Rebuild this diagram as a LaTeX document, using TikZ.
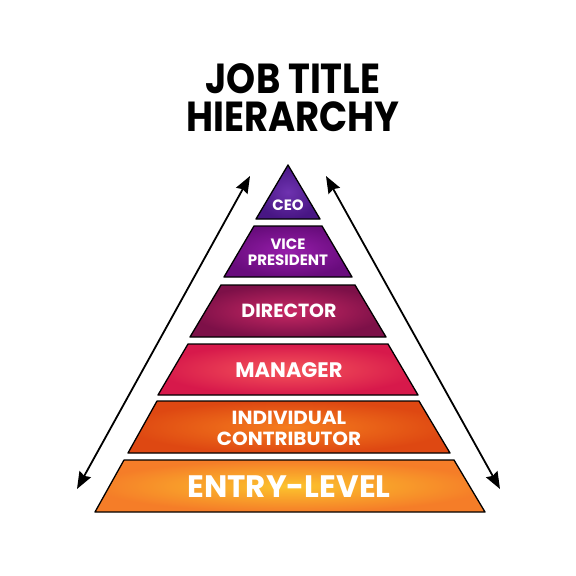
\documentclass[tikz,border=0pt]{standalone}
\usepackage{fontspec}
\setmainfont{Poppins}
\usetikzlibrary{arrows.meta}
\tikzset{
  tier/.style={draw=black,line width=1.3pt,line join=round},
  lbl/.style={text=white,align=center,inner sep=0pt},
  dbl/.style={draw=black,line width=1.8pt,{Stealth[length=17pt,width=13pt,inset=2pt]}-{Stealth[length=17pt,width=13pt,inset=2pt]}},
  ttl/.style={font=\fontsize{42}{42}\selectfont\bfseries,inner sep=0pt,text height=30pt,text depth=0pt,anchor=base}
}
\begin{document}
\begin{tikzpicture}[x=1pt,y=-1pt]
\useasboundingbox[fill=white] (0,0) rectangle (576,576);
% title
\node[ttl,xscale=0.88] (t1) at (293,93) {JOB TITLE};
\node[ttl,xscale=0.88] (t2) at (293,131) {HIERARCHY};
% tiers
\shade[tier,inner color={rgb,255:red,110;green,50;blue,175},outer color={rgb,255:red,72;green,22;blue,132}]
  (288,165) -- (320,219) -- (256,219) -- cycle;
\shade[tier,inner color={rgb,255:red,150;green,30;blue,170},outer color={rgb,255:red,105;green,12;blue,125}]
  (254,226) -- (322,226) -- (352,277) -- (224,277) -- cycle;
\shade[tier,inner color={rgb,255:red,200;green,40;blue,100},outer color={rgb,255:red,125;green,16;blue,72}]
  (221,285) -- (355,285) -- (386,337) -- (190,337) -- cycle;
\shade[tier,inner color={rgb,255:red,245;green,85;blue,90},outer color={rgb,255:red,215;green,25;blue,75}]
  (188,344) -- (388,344) -- (418,395) -- (158,395) -- cycle;
\shade[tier,inner color={rgb,255:red,245;green,125;blue,30},outer color={rgb,255:red,222;green,72;blue,18}]
  (157,401) -- (419,401) -- (450,453) -- (128,453) -- cycle;
\shade[tier,inner color={rgb,255:red,252;green,195;blue,45},outer color={rgb,255:red,245;green,125;blue,40}]
  (124,460) -- (454,460) -- (485,512) -- (95,512) -- cycle;
% labels
\node[lbl,font=\fontsize{15}{15}\selectfont\bfseries] (ceo) at (288,205) {CEO};
\node[lbl,font=\fontsize{15}{16}\selectfont\bfseries] (vp) at (288,252) {VICE\\PRESIDENT};
\node[lbl,font=\fontsize{19}{19}\selectfont\bfseries] (dir) at (289,311) {DIRECTOR};
\node[lbl,font=\fontsize{21}{21}\selectfont\bfseries] (man) at (289,370) {MANAGER};
\node[lbl,font=\fontsize{19}{21}\selectfont\bfseries,xscale=1.05] (ind) at (289,428) {INDIVIDUAL\\CONTRIBUTOR};
\node[lbl,font=\fontsize{31}{31}\selectfont\bfseries] (ent) at (289,487) {ENTRY-LEVEL};
% arrows
\coordinate (la) at (77,489);
\coordinate (lb) at (250,176);
\coordinate (ra) at (326,176);
\coordinate (rb) at (500,489);
\draw[dbl] (la) -- (lb);
\draw[dbl] (ra) -- (rb);
\end{tikzpicture}
\end{document}
